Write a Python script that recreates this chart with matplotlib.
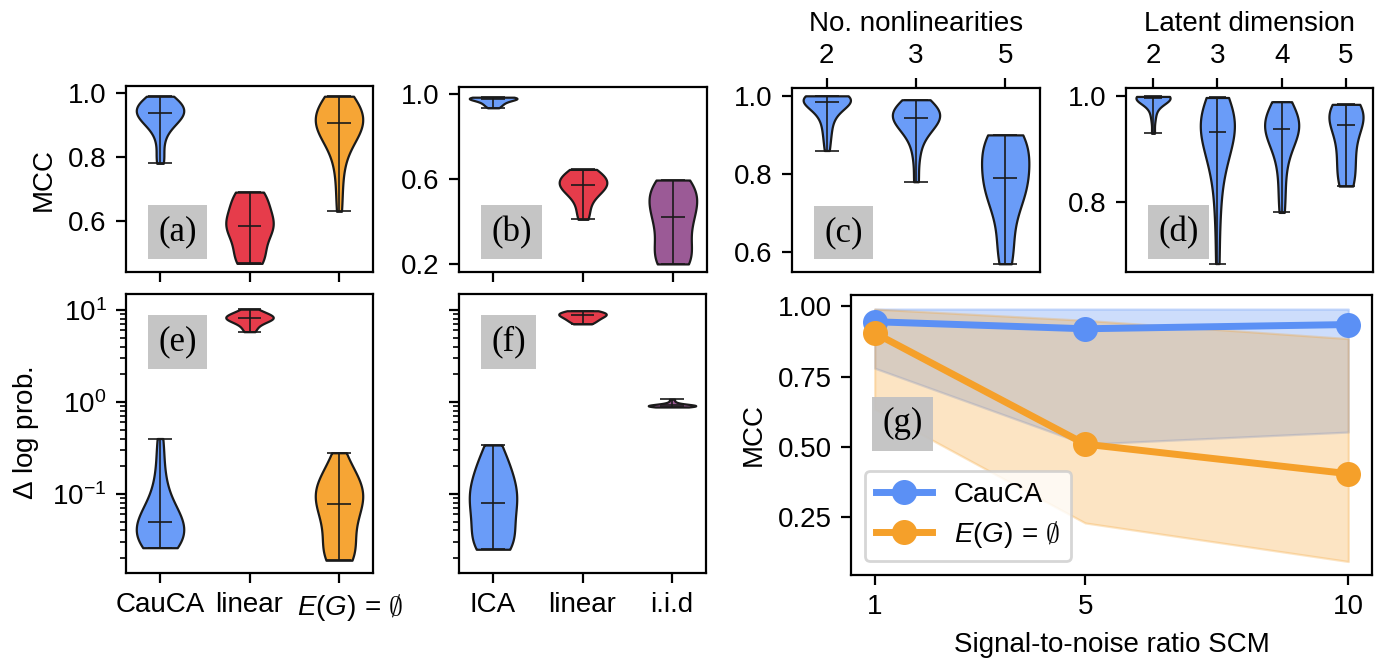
import numpy as np
import matplotlib.pyplot as plt
import matplotlib.transforms as mtrans
from matplotlib import cbook, mlab

plt.rcParams['font.family'] = ['Liberation Sans', 'DejaVu Sans']
plt.rcParams['font.size'] = 10
plt.rcParams['mathtext.fontset'] = 'custom'
plt.rcParams['mathtext.rm'] = 'Liberation Sans'
plt.rcParams['mathtext.it'] = 'Liberation Sans:italic'

BLUE = '#6a9cf8'
RED = '#e63c4b'
ORANGE = '#f6a535'
PURPLE = '#9b5a96'
LBLUE = '#5b90f5'
LORANGE = '#f5a02a'
EMPTY = r'$E(G)\,=\,\emptyset$'

# (a) MCC: CauCA vs linear vs no edges
a_labels = ['CauCA', 'linear', EMPTY]
a_cauca = [0.78, 0.80, 0.84, 0.87, 0.89, 0.90, 0.91, 0.915, 0.92, 0.925, 0.93, 0.935,
           0.94, 0.94, 0.945, 0.95, 0.955, 0.96, 0.965, 0.97, 0.975, 0.98, 0.985, 0.99]
a_linear = [0.467, 0.468, 0.475, 0.485, 0.50, 0.52, 0.54, 0.555, 0.565, 0.575, 0.58,
            0.585, 0.59, 0.60, 0.61, 0.62, 0.63, 0.645, 0.66, 0.675, 0.685, 0.69, 0.69]
a_empty = [0.63, 0.70, 0.76, 0.80, 0.83, 0.85, 0.86, 0.87, 0.88, 0.89, 0.90, 0.905,
           0.91, 0.915, 0.92, 0.93, 0.94, 0.95, 0.96, 0.97, 0.98, 0.99, 0.99]

# (b) MCC: ICA vs linear vs i.i.d
b_labels = ['ICA', 'linear', 'i.i.d']
b_ica = [0.935, 0.945, 0.953, 0.96, 0.966, 0.971, 0.975, 0.979, 0.981, 0.982, 0.983,
         0.984, 0.985]
b_linear = [0.41, 0.44, 0.48, 0.51, 0.53, 0.545, 0.555, 0.565, 0.57, 0.575, 0.585, 0.595,
            0.605, 0.615, 0.625, 0.635, 0.645]
b_iid = [0.20, 0.202, 0.21, 0.23, 0.26, 0.29, 0.33, 0.37, 0.40, 0.42, 0.445, 0.47, 0.49,
         0.51, 0.53, 0.55, 0.57, 0.585, 0.595]

# (c) MCC vs number of nonlinearities
c_ticks = ['2', '3', '5']
c_n2 = [0.86, 0.89, 0.91, 0.93, 0.945, 0.955, 0.965, 0.972, 0.978, 0.982, 0.985, 0.988,
        0.99, 0.992, 0.994, 0.996, 0.998, 0.999, 1.0, 1.0, 1.0]
c_n3 = [0.78, 0.84, 0.88, 0.90, 0.915, 0.925, 0.93, 0.935, 0.94, 0.945, 0.95, 0.955,
        0.96, 0.965, 0.97, 0.975, 0.98, 0.99]
c_n5 = [0.57, 0.59, 0.62, 0.66, 0.70, 0.72, 0.74, 0.75, 0.76, 0.77, 0.78, 0.79, 0.805,
        0.82, 0.83, 0.84, 0.855, 0.87, 0.88, 0.89, 0.895, 0.90, 0.90]

# (d) MCC vs latent dimension
d_ticks = ['2', '3', '4', '5']
d_l2 = [0.93, 0.955, 0.97, 0.98, 0.988, 0.992, 0.995, 0.996, 0.997, 0.998, 0.999,
        1.0, 1.0, 1.0, 1.0, 1.0, 1.0]
d_l3 = [0.683, 0.76, 0.81, 0.85, 0.87, 0.89, 0.90, 0.91, 0.92, 0.93, 0.935, 0.94, 0.95,
        0.955, 0.96, 0.97, 0.975, 0.98, 0.99, 0.998]
d_l4 = [0.78, 0.82, 0.86, 0.89, 0.91, 0.92, 0.93, 0.935, 0.94, 0.945, 0.95, 0.955, 0.96,
        0.97, 0.98, 0.99]
d_l5 = [0.83, 0.833, 0.845, 0.86, 0.875, 0.89, 0.90, 0.915, 0.93, 0.945, 0.95, 0.955,
        0.96, 0.965, 0.97, 0.975, 0.98, 0.983, 0.985]

# (e) delta log prob
e_cauca = [0.026, 0.0262, 0.027, 0.028, 0.03, 0.032, 0.034, 0.037, 0.04, 0.043, 0.046,
           0.049, 0.051, 0.054, 0.058, 0.063, 0.07, 0.08, 0.095, 0.12, 0.16, 0.25, 0.4]
e_linear = [5.8, 6.5, 7.2, 7.6, 7.9, 8.1, 8.2, 8.4, 8.7, 9.0, 9.4, 10.2]
e_empty = [0.019, 0.0192, 0.02, 0.022, 0.025, 0.029, 0.034, 0.04, 0.047, 0.054, 0.06,
           0.066, 0.077, 0.082, 0.088, 0.095, 0.1, 0.105, 0.12, 0.13, 0.14, 0.16, 0.17,
           0.21, 0.28]

# (f) delta log prob
f_ica = [0.025, 0.0252, 0.026, 0.028, 0.031, 0.035, 0.04, 0.046, 0.053, 0.06, 0.068,
         0.076, 0.084, 0.09, 0.098, 0.108, 0.12, 0.14, 0.15, 0.17, 0.2, 0.23, 0.28, 0.34]
f_linear = [7.05, 7.4, 7.8, 8.1, 8.4, 8.7, 8.9, 9.1, 9.3, 9.55, 9.8]
f_iid = [0.88, 0.885, 0.89, 0.895, 0.90, 0.905, 0.91, 0.915, 0.92, 0.925, 0.93, 0.94,
         0.96, 1.0, 1.07]

# (g) MCC vs SNR: median and min/max band
snr = [1, 5, 10]
g_cauca_med = [0.945, 0.92, 0.935]
g_cauca_min = [0.78, 0.51, 0.553]
g_cauca_max = [0.99, 0.99, 0.99]
g_empty_med = [0.905, 0.51, 0.405]
g_empty_min = [0.635, 0.23, 0.093]
g_empty_max = [0.99, 0.95, 0.885]

W, H = 1376, 665
fig = plt.figure(figsize=(W / 200, H / 200), dpi=200)


def box(l, t, r, b):
    return fig.add_axes([l / W, 1 - b / H, (r - l) / W, (b - t) / H])


def style(parts, colors):
    for body, c in zip(parts['bodies'], colors):
        body.set_facecolor(c)
        body.set_edgecolor('#1a1a1a')
        body.set_alpha(1)
        body.set_linewidth(0.8)
    for k in ('cbars', 'cmins', 'cmaxes', 'cmedians'):
        parts[k].set_color('#1a1a1a')
        parts[k].set_linewidth(0.6)


def kde(x, coords):
    return mlab.GaussianKDE(x, 'scott').evaluate(coords)


def log_violin(ax, data, colors):
    # density estimated on log10 values so shapes look right on a log axis
    stats = cbook.violin_stats([np.log10(d) for d in data], kde)
    for s in stats:
        for k in ('coords', 'mean', 'median', 'min', 'max'):
            s[k] = 10 ** np.asarray(s[k])
    parts = ax.violin(stats, positions=range(1, len(data) + 1), widths=0.53,
                      showmedians=True)
    style(parts, colors)


def violin(ax, data, colors):
    parts = ax.violinplot(data, positions=range(1, len(data) + 1), widths=0.53,
                          showmedians=True)
    style(parts, colors)


def tag(ax, s, x, y):
    ax.text(x, y, s, transform=ax.transAxes, family=['Liberation Serif', 'DejaVu Serif'],
            fontsize=12.5, ha='left', va='center', zorder=5,
            bbox=dict(boxstyle='square,pad=0.3', fc='#c2c2c2', ec='none', alpha=0.95))


ax_a = box(126, 86, 373, 272)
ax_b = box(459, 87, 707, 272)
ax_c = box(792, 88, 1040, 272)
ax_d = box(1126, 88, 1373, 272)
ax_e = box(126, 294, 373, 573)
ax_f = box(459, 294, 706, 573)
ax_g = box(851, 295, 1372, 575)

# (a)
violin(ax_a, [a_cauca, a_linear, a_empty], [BLUE, RED, ORANGE])
ax_a.set_xlim(0.62, 3.38)
ax_a.set_ylim(0.44, 1.022)
ax_a.set_yticks([0.6, 0.8, 1.0])
ax_a.set_xticks([1, 2, 3])
ax_a.set_xticklabels([])
ax_a.set_ylabel('MCC')
tag(ax_a, '(a)', 0.13, 0.215)

# (b)
violin(ax_b, [b_ica, b_linear, b_iid], [BLUE, RED, PURPLE])
ax_b.set_xlim(0.62, 3.38)
ax_b.set_ylim(0.162, 1.033)
ax_b.set_yticks([0.2, 0.6, 1.0])
ax_b.set_xticks([1, 2, 3])
ax_b.set_xticklabels([])
tag(ax_b, '(b)', 0.13, 0.215)

# (c)
violin(ax_c, [c_n2, c_n3, c_n5], [BLUE] * 3)
ax_c.set_xlim(0.61, 3.39)
ax_c.set_ylim(0.549, 1.02)
ax_c.set_yticks([0.6, 0.8, 1.0])
ax_c.xaxis.tick_top()
ax_c.xaxis.set_label_position('top')
ax_c.set_xticks([1, 2, 3])
ax_c.set_xticklabels(c_ticks)
ax_c.set_xlabel('No. nonlinearities')
tag(ax_c, '(c)', 0.13, 0.215)

# (d)
violin(ax_d, [d_l2, d_l3, d_l4, d_l5], [BLUE] * 4)
ax_d.set_xlim(0.58, 4.42)
ax_d.set_ylim(0.667, 1.016)
ax_d.set_yticks([0.8, 1.0])
ax_d.xaxis.tick_top()
ax_d.xaxis.set_label_position('top')
ax_d.set_xticks([1, 2, 3, 4])
ax_d.set_xticklabels(d_ticks)
ax_d.set_xlabel('Latent dimension')
tag(ax_d, '(d)', 0.13, 0.215)

# (e)
ax_e.set_yscale('log')
log_violin(ax_e, [e_cauca, e_linear, e_empty], [BLUE, RED, ORANGE])
ax_e.set_xlim(0.62, 3.38)
ax_e.set_ylim(0.0138, 14.9)
ax_e.set_xticks([1, 2, 3])
ax_e.set_xticklabels(a_labels)
# nudge the wide last label right so it clears "linear"
last = ax_e.get_xticklabels()[2]
last.set_transform(last.get_transform() + mtrans.ScaledTranslation(4 / 72, 0, fig.dpi_scale_trans))
ax_e.set_ylabel(r'$\Delta$ log prob.')
tag(ax_e, '(e)', 0.13, 0.828)

# (f)
ax_f.set_yscale('log')
log_violin(ax_f, [f_ica, f_linear, f_iid], [BLUE, RED, PURPLE])
ax_f.set_xlim(0.62, 3.38)
ax_f.set_ylim(0.0138, 14.9)
ax_f.set_xticks([1, 2, 3])
ax_f.set_xticklabels(b_labels)
ax_f.tick_params(axis='y', which='both', labelleft=False)
tag(ax_f, '(f)', 0.13, 0.828)

# (g)
ax_g.fill_between(snr, g_cauca_min, g_cauca_max, color=LBLUE, alpha=0.3, lw=0.8)
ax_g.fill_between(snr, g_empty_min, g_empty_max, color=LORANGE, alpha=0.28, lw=0.8)
ax_g.plot(snr, g_cauca_med, '-o', color=LBLUE, lw=2.5, ms=8, label='CauCA')
ax_g.plot(snr, g_empty_med, '-o', color=LORANGE, lw=2.5, ms=8, label=EMPTY)
ax_g.set_xlim(0.55, 10.45)
ax_g.set_ylim(0.045, 1.04)
ax_g.set_xticks(snr)
ax_g.set_yticks([0.25, 0.5, 0.75, 1.0])
ax_g.set_xlabel('Signal-to-noise ratio SCM')
ax_g.set_ylabel('MCC')
ax_g.legend(loc='lower left', labelspacing=0.4)
tag(ax_g, '(g)', 0.06, 0.54)

fig.savefig('out.png', dpi=200)
